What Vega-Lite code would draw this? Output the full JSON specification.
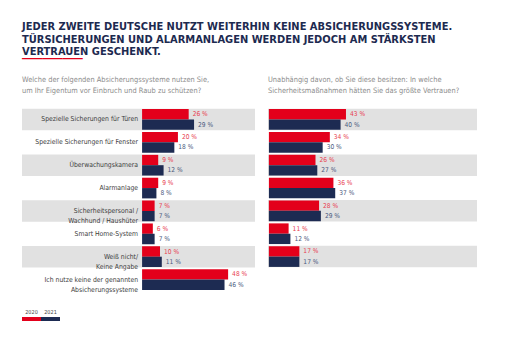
{
  "$schema": "https://vega.github.io/schema/vega-lite/v6.json",
  "background": "white",
  "padding": {"left": 22, "top": 20, "right": 5, "bottom": 5},
  "title": {
    "text": ["JEDER ZWEITE DEUTSCHE NUTZT WEITERHIN KEINE ABSICHERUNGSSYSTEME.", "TÜRSICHERUNGEN UND ALARMANLAGEN WERDEN JEDOCH AM STÄRKSTEN", "VERTRAUEN GESCHENKT."],
    "subtitle": "———",
    "anchor": "start",
    "font": "DejaVu Sans Condensed",
    "fontSize": 11,
    "fontWeight": "bold",
    "lineHeight": 12.7,
    "color": "#1d2a50",
    "subtitleFont": "Liberation Sans",
    "subtitleFontSize": 20.3,
    "subtitleColor": "#e3001b",
    "subtitlePadding": -9.5,
    "offset": 7.5
  },
  "datasets": {
    "left": [
      {"cat": "Spezielle Sicherungen für Türen", "year": "2020", "value": 26},
      {"cat": "Spezielle Sicherungen für Türen", "year": "2021", "value": 29},
      {"cat": "Spezielle Sicherungen für Fenster", "year": "2020", "value": 20},
      {"cat": "Spezielle Sicherungen für Fenster", "year": "2021", "value": 18},
      {"cat": "Überwachungskamera", "year": "2020", "value": 9},
      {"cat": "Überwachungskamera", "year": "2021", "value": 12},
      {"cat": "Alarmanlage", "year": "2020", "value": 9},
      {"cat": "Alarmanlage", "year": "2021", "value": 8},
      {"cat": "Sicherheitspersonal /\nWachhund / Haushüter", "year": "2020", "value": 7},
      {"cat": "Sicherheitspersonal /\nWachhund / Haushüter", "year": "2021", "value": 7},
      {"cat": "Smart Home-System", "year": "2020", "value": 6},
      {"cat": "Smart Home-System", "year": "2021", "value": 7},
      {"cat": "Weiß nicht/\nKeine Angabe", "year": "2020", "value": 10},
      {"cat": "Weiß nicht/\nKeine Angabe", "year": "2021", "value": 11},
      {"cat": "Ich nutze keine der genannten\nAbsicherungssysteme", "year": "2020", "value": 48},
      {"cat": "Ich nutze keine der genannten\nAbsicherungssysteme", "year": "2021", "value": 46}
    ],
    "right": [
      {"cat": "Spezielle Sicherungen für Türen", "year": "2020", "value": 43},
      {"cat": "Spezielle Sicherungen für Türen", "year": "2021", "value": 40},
      {"cat": "Spezielle Sicherungen für Fenster", "year": "2020", "value": 34},
      {"cat": "Spezielle Sicherungen für Fenster", "year": "2021", "value": 30},
      {"cat": "Überwachungskamera", "year": "2020", "value": 26},
      {"cat": "Überwachungskamera", "year": "2021", "value": 27},
      {"cat": "Alarmanlage", "year": "2020", "value": 36},
      {"cat": "Alarmanlage", "year": "2021", "value": 37},
      {"cat": "Sicherheitspersonal /\nWachhund / Haushüter", "year": "2020", "value": 28},
      {"cat": "Sicherheitspersonal /\nWachhund / Haushüter", "year": "2021", "value": 29},
      {"cat": "Smart Home-System", "year": "2020", "value": 11},
      {"cat": "Smart Home-System", "year": "2021", "value": 12},
      {"cat": "Weiß nicht/\nKeine Angabe", "year": "2020", "value": 17},
      {"cat": "Weiß nicht/\nKeine Angabe", "year": "2021", "value": 17}
    ],
    "leftStripes": [
      {"cat": "Spezielle Sicherungen für Türen"},
      {"cat": "Überwachungskamera"},
      {"cat": "Sicherheitspersonal /\nWachhund / Haushüter"},
      {"cat": "Weiß nicht/\nKeine Angabe"}
    ],
    "leftCats": [
      {"cat": "Spezielle Sicherungen für Türen"},
      {"cat": "Spezielle Sicherungen für Fenster"},
      {"cat": "Überwachungskamera"},
      {"cat": "Alarmanlage"},
      {"cat": "Sicherheitspersonal /\nWachhund / Haushüter"},
      {"cat": "Smart Home-System"},
      {"cat": "Weiß nicht/\nKeine Angabe"},
      {"cat": "Ich nutze keine der genannten\nAbsicherungssysteme"}
    ],
    "years": [{"year": "2020"}, {"year": "2021"}]
  },
  "config": {
    "view": {"stroke": null},
    "font": "DejaVu Sans Condensed",
    "concat": {"spacing": 13}
  },
  "vconcat": [
    {
      "hconcat": [
        {
          "width": 233,
          "height": 183,
          "title": {
            "text": ["Welche der folgenden Absicherungssysteme nutzen Sie,", "um Ihr Eigentum vor Einbruch und Raub zu schützen?"],
            "anchor": "start", "fontSize": 7.4, "fontWeight": "normal", "color": "#8c8c8c", "lineHeight": 11, "offset": 14
          },
          "encoding": {
            "y": {
              "field": "cat", "type": "nominal", "axis": null,
              "scale": {"domain": ["Spezielle Sicherungen für Türen", "Spezielle Sicherungen für Fenster", "Überwachungskamera", "Alarmanlage", "Sicherheitspersonal /\nWachhund / Haushüter", "Smart Home-System", "Weiß nicht/\nKeine Angabe", "Ich nutze keine der genannten\nAbsicherungssysteme"], "paddingInner": 0.06, "paddingOuter": 0.03}
            }
          },
          "layer": [
            {"data": {"name": "leftStripes"}, "mark": {"type": "rect", "color": "#e1e1e1"}},
            {"data": {"name": "leftCats"}, "mark": {"type": "text", "align": "right", "baseline": "middle", "dx": -4, "fontSize": 6.8, "color": "#3c3c3c", "lineBreak": "\n", "lineHeight": 10},
             "encoding": {"x": {"datum": 0, "type": "quantitative", "scale": {"domain": [-67, 63], "nice": false, "zero": false}, "axis": null}, "text": {"field": "cat"}}},
            {"data": {"name": "left"}, "mark": {"type": "bar"},
             "encoding": {
               "x": {"field": "value", "type": "quantitative", "scale": {"domain": [-67, 63], "nice": false, "zero": false}, "axis": null},
               "yOffset": {"field": "year", "type": "nominal", "scale": {"paddingOuter": 0.04, "paddingInner": 0}},
               "color": {"field": "year", "type": "nominal", "scale": {"domain": ["2020", "2021"], "range": ["#e3001b", "#1d2b52"]}, "legend": null}
             }},
            {"data": {"name": "left"}, "transform": [{"calculate": "datum.value + ' %'", "as": "label"}],
             "mark": {"type": "text", "align": "left", "baseline": "middle", "dx": 4, "fontSize": 6.6},
             "encoding": {
               "x": {"field": "value", "type": "quantitative", "scale": {"domain": [-67, 63], "nice": false, "zero": false}, "axis": null},
               "yOffset": {"field": "year", "type": "nominal", "scale": {"paddingOuter": 0.04, "paddingInner": 0}},
               "text": {"field": "label"},
               "color": {"condition": {"test": "datum.year == '2020'", "value": "#e8404f"}, "value": "#4a5a7e"}
             }}
          ]
        },
        {
          "width": 209,
          "height": 160,
          "title": {
            "text": ["Unabhängig davon, ob Sie diese besitzen: In welche", "Sicherheitsmaßnahmen hätten Sie das größte Vertrauen?"],
            "anchor": "start", "fontSize": 7.4, "fontWeight": "normal", "color": "#8c8c8c", "lineHeight": 11, "offset": 14
          },
          "encoding": {
            "y": {
              "field": "cat", "type": "nominal", "axis": null,
              "scale": {"domain": ["Spezielle Sicherungen für Türen", "Spezielle Sicherungen für Fenster", "Überwachungskamera", "Alarmanlage", "Sicherheitspersonal /\nWachhund / Haushüter", "Smart Home-System", "Weiß nicht/\nKeine Angabe"], "paddingInner": 0.06, "paddingOuter": 0.03}
            }
          },
          "layer": [
            {"data": {"name": "leftStripes"}, "mark": {"type": "rect", "color": "#e1e1e1"}},
            {"data": {"name": "right"}, "mark": {"type": "bar"},
             "encoding": {
               "x": {"field": "value", "type": "quantitative", "scale": {"domain": [-0.5, 116.1], "nice": false, "zero": false}, "axis": null},
               "yOffset": {"field": "year", "type": "nominal", "scale": {"paddingOuter": 0.04, "paddingInner": 0}},
               "color": {"field": "year", "type": "nominal", "scale": {"domain": ["2020", "2021"], "range": ["#e3001b", "#1d2b52"]}, "legend": null}
             }},
            {"data": {"name": "right"}, "transform": [{"calculate": "datum.value + ' %'", "as": "label"}],
             "mark": {"type": "text", "align": "left", "baseline": "middle", "dx": 4, "fontSize": 6.6},
             "encoding": {
               "x": {"field": "value", "type": "quantitative", "scale": {"domain": [-0.5, 116.1], "nice": false, "zero": false}, "axis": null},
               "yOffset": {"field": "year", "type": "nominal", "scale": {"paddingOuter": 0.04, "paddingInner": 0}},
               "text": {"field": "label"},
               "color": {"condition": {"test": "datum.year == '2020'", "value": "#e8404f"}, "value": "#4a5a7e"}
             }}
          ]
        }
      ]
    },
    {
      "width": 38,
      "height": 4,
      "data": {"name": "years"},
      "mark": "rect",
      "encoding": {
        "x": {"field": "year", "type": "nominal", "scale": {"paddingInner": 0, "paddingOuter": 0},
              "axis": {"orient": "top", "domain": false, "ticks": false, "labelAngle": 0, "labelFontSize": 5.5, "labelPadding": 3, "labelColor": "#444", "title": null}},
        "color": {"field": "year", "type": "nominal", "scale": {"domain": ["2020", "2021"], "range": ["#e3001b", "#1d2b52"]}, "legend": null}
      }
    }
  ],
  "spacing": 15
}
